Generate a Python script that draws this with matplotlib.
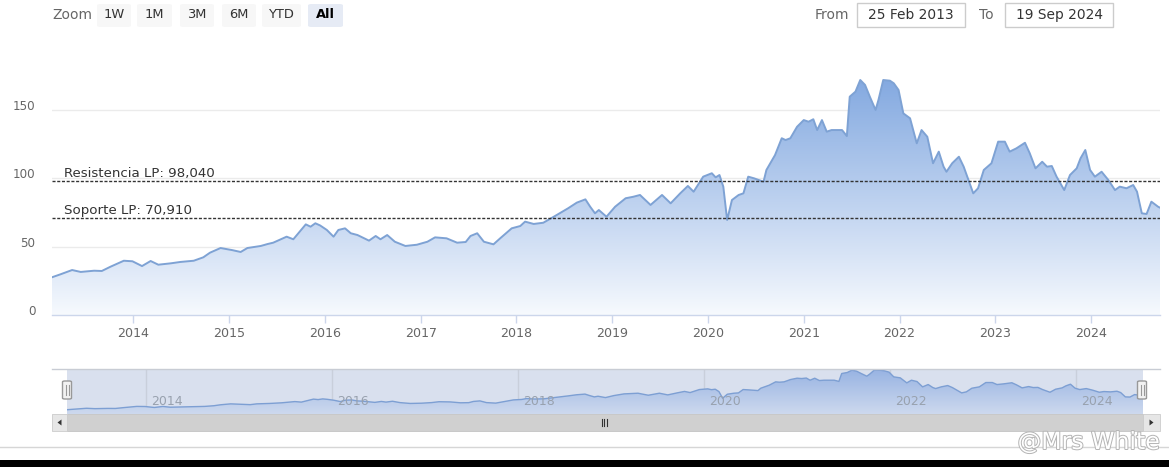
import numpy as np
import matplotlib
matplotlib.use("Agg")
import matplotlib.pyplot as plt
from matplotlib.patches import Polygon, Rectangle, FancyBboxPatch
from matplotlib.transforms import ScaledTranslation
import matplotlib.patheffects as pe

# ---------------- data (decimal year, price) ----------------
years = [2013.15, 2013.24, 2013.36, 2013.45, 2013.59, 2013.67, 2013.76, 2013.90, 2013.99,
         2014.09, 2014.18, 2014.26, 2014.39, 2014.49, 2014.63, 2014.73, 2014.80, 2014.91,
         2015.03, 2015.12, 2015.19, 2015.33, 2015.40, 2015.46, 2015.60, 2015.67, 2015.80,
         2015.85, 2015.90, 2015.95, 2016.02, 2016.09, 2016.14, 2016.21, 2016.27, 2016.34,
         2016.46, 2016.53, 2016.58, 2016.65, 2016.73, 2016.84, 2016.96, 2017.07, 2017.15,
         2017.27, 2017.38, 2017.47, 2017.52, 2017.59, 2017.66, 2017.76, 2017.83, 2017.95,
         2018.04, 2018.09, 2018.18, 2018.28, 2018.39, 2018.46, 2018.54, 2018.63, 2018.72,
         2018.77, 2018.82, 2018.86, 2018.94, 2019.03, 2019.14, 2019.22, 2019.29, 2019.40,
         2019.52, 2019.61, 2019.71, 2019.79, 2019.85, 2019.95, 2020.04, 2020.08, 2020.12,
         2020.16, 2020.20, 2020.25, 2020.32, 2020.37, 2020.42, 2020.48, 2020.58, 2020.61,
         2020.70, 2020.77, 2020.81, 2020.86, 2020.93, 2021.00, 2021.05, 2021.10, 2021.14,
         2021.19, 2021.24, 2021.29, 2021.35, 2021.40, 2021.45, 2021.48, 2021.54, 2021.59,
         2021.64, 2021.69, 2021.75, 2021.78, 2021.83, 2021.90, 2021.94, 2021.99, 2022.04,
         2022.11, 2022.18, 2022.23, 2022.29, 2022.35, 2022.41, 2022.46, 2022.49, 2022.55,
         2022.62, 2022.67, 2022.72, 2022.77, 2022.82, 2022.88, 2022.96, 2023.03, 2023.10,
         2023.15, 2023.22, 2023.31, 2023.36, 2023.42, 2023.49, 2023.54, 2023.59, 2023.64,
         2023.72, 2023.78, 2023.85, 2023.89, 2023.94, 2023.99, 2024.04, 2024.11, 2024.18,
         2024.25, 2024.30, 2024.37, 2024.44, 2024.48, 2024.53, 2024.58, 2024.63, 2024.70,
         2024.72]
prices = [27.6, 29.8, 32.9, 31.5, 32.4, 32.2, 35.3, 39.7, 39.3,
          35.8, 39.5, 36.8, 37.8, 38.8, 39.7, 42.2, 45.6, 49.0,
          47.5, 46.1, 49.0, 50.5, 51.9, 52.9, 57.3, 55.4, 66.3,
          64.6, 67.1, 65.5, 62.2, 57.3, 62.2, 63.4, 59.8, 58.5,
          54.4, 57.8, 55.4, 58.5, 53.6, 50.5, 51.4, 53.6, 56.8,
          56.1, 52.9, 53.4, 57.8, 59.8, 53.6, 51.7, 56.1, 63.4,
          65.1, 68.3, 66.6, 67.5, 71.9, 74.8, 78.1, 82.2, 84.6,
          79.2, 74.4, 76.8, 71.9, 79.2, 85.4, 86.5, 87.8, 80.5,
          87.8, 81.7, 89.0, 94.4, 90.2, 101.2, 103.7, 100.7, 102.4,
          93.9, 69.5, 84.1, 87.8, 89.0, 101.2, 100.0, 97.5, 106.1,
          117.0, 129.3, 128.0, 129.3, 137.7, 142.6, 141.4, 143.2, 135.3,
          142.6, 134.1, 135.3, 135.3, 135.3, 130.9, 159.7, 163.4, 171.9,
          168.3, 159.7, 150.0, 157.3, 171.9, 171.4, 169.5, 164.6, 147.5,
          143.9, 125.6, 135.3, 130.4, 111.0, 119.5, 108.5, 104.8, 111.0,
          115.8, 108.5, 98.8, 89.0, 92.7, 106.1, 111.0, 126.8, 126.8,
          119.5, 121.9, 126.0, 118.3, 107.3, 112.1, 108.5, 109.0, 101.2,
          91.4, 102.4, 107.3, 114.6, 120.7, 106.1, 101.2, 104.8, 98.8,
          91.4, 93.9, 92.7, 95.1, 90.2, 74.4, 73.9, 82.9, 79.2,
          78.5]

resistance_value = 98.04
support_value = 70.91
resistance_label = "Resistencia LP: 98,040"
support_label = "Soporte LP: 70,910"
main_years = list(range(2014, 2025))
nav_years = list(range(2014, 2025, 2))
y_ticks = [0, 50, 100, 150]
zoom_buttons = ["1W", "1M", "3M", "6M", "YTD", "All"]
from_date = "25 Feb 2013"
to_date = "19 Sep 2024"

# ---------------- figure ----------------
W, H = 1169, 467
fig = plt.figure(figsize=(W / 100, H / 100), dpi=100)
fig.patch.set_facecolor("white")
plt.rcParams["font.family"] = ["DejaVu Sans"]


def fx(px):
    return px / W


def fy(py):
    return 1 - py / H


TXT = "#666666"
x0, x1 = years[0], years[-1]

# ---------------- main axes ----------------
left_px, right_px = 52, 1160
bot_px, top_px = 315, 41.6
ax = fig.add_axes([fx(left_px), fy(bot_px), (right_px - left_px) / W, (bot_px - top_px) / H])
ax.set_facecolor("white")
x = np.array(years)
y = np.array(prices)

# gradient area
verts = np.vstack([np.column_stack([x, y]), [[x1, 0], [x0, 0]]])
poly = Polygon(verts, closed=True, facecolor="none", edgecolor="none")
ax.add_patch(poly)
ntop = 175.0
grad = np.linspace(0, 1, 256).reshape(-1, 1)
c_top = np.array([130, 168, 224]) / 255
c_bot = np.array([247, 250, 254]) / 255
rgb = c_bot + (c_top - c_bot) * grad[..., None] ** 0.95
rgb = rgb.reshape(256, 1, 3)
img = ax.imshow(rgb, extent=[x0, x1, 0, ntop], origin="lower", aspect="auto",
                interpolation="bilinear", zorder=1)
img.set_clip_path(poly)
ax.plot(x, y, color="#7ea2d4", lw=1.4, zorder=3, solid_joinstyle="round")

ax.set_xlim(x0, x1)
ax.set_ylim(0, 200)

# grid
for v in y_ticks[1:]:
    ax.axhline(v, color="#ebebeb", lw=1, zorder=0.5)

# support / resistance
for val, lab in [(resistance_value, resistance_label), (support_value, support_label)]:
    ax.axhline(val, color="#333333", lw=1.0, ls=(0, (2.2, 1.2)), zorder=4)
    ax.annotate(lab, xy=(0, val), xycoords=ax.get_yaxis_transform(),
                xytext=(12 * 0.72, 1.0 * 0.72), textcoords="offset points",
                ha="left", va="bottom", fontsize=9.6, color="#333333", zorder=5)

for s in ["top", "right", "left"]:
    ax.spines[s].set_visible(False)
ax.spines["bottom"].set_color("#ccd6eb")
ax.spines["bottom"].set_linewidth(1)

ax.set_xticks(main_years)
ax.set_xticklabels([str(v) for v in main_years], fontsize=9.1, color=TXT)
ax.tick_params(axis="x", length=6, width=1, color="#ccd6eb", pad=2.5)
ax.set_yticks(y_ticks)
ax.set_yticklabels([str(v) for v in y_ticks], fontsize=8.6, color=TXT)
ax.tick_params(axis="y", length=0, pad=12)
for lbl in ax.get_yticklabels():
    lbl.set_transform(lbl.get_transform() + ScaledTranslation(0, 5 / 100, fig.dpi_scale_trans))

# ---------------- top controls ----------------
fig.text(fx(52), fy(15), "Zoom", fontsize=10, color=TXT, ha="left", va="center")
btn_x = [(97, 131), (137, 172), (180, 214), (222, 256), (262, 301), (308, 343)]
for (a, b), lab in zip(btn_x, zoom_buttons):
    sel = lab == "All"
    fig.patches.append(FancyBboxPatch((fx(a), fy(27)), fx(b - a), (27 - 4) / H,
                                      boxstyle="round,pad=0,rounding_size=0.003",
                                      transform=fig.transFigure,
                                      facecolor="#e6ebf5" if sel else "#f7f7f7",
                                      edgecolor="none"))
    fig.text(fx((a + b) / 2), fy(15), lab, fontsize=9.4, color="#000000" if sel else "#333333",
             fontweight="bold" if sel else "normal", ha="center", va="center")

fig.text(fx(815), fy(15), "From", fontsize=10, color=TXT, ha="left", va="center")
fig.text(fx(979), fy(15), "To", fontsize=10, color=TXT, ha="left", va="center")
for (a, b), lab in [((857, 965), from_date), ((1005, 1113), to_date)]:
    fig.patches.append(Rectangle((fx(a), fy(27)), fx(b - a), (27 - 3) / H,
                                 transform=fig.transFigure, facecolor="white",
                                 edgecolor="#cccccc", lw=1))
    fig.text(fx((a + b) / 2), fy(15), lab, fontsize=9.9, color="#333333", ha="center", va="center")

# ---------------- navigator ----------------
nl, nr, nt, nb = 67, 1143, 368.5, 414
nav = fig.add_axes([fx(nl), fy(nb), (nr - nl) / W, (nb - nt) / H])
nav.set_facecolor("#d9e0ee")
nav.set_xlim(x0, x1)
nav.set_ylim(12, 178)
for yy in nav_years:
    nav.axvline(yy, color="#c9cfdb", lw=1, zorder=0.5)
    nav.annotate(str(yy), xy=(yy, 0), xycoords=nav.get_xaxis_transform(),
                 xytext=(4, 4), textcoords="offset points", fontsize=9,
                 color="#98a1ae", ha="left", va="bottom", zorder=5)
nverts = np.vstack([np.column_stack([x, y]), [[x1, 0], [x0, 0]]])
npoly = Polygon(nverts, closed=True, facecolor="none", edgecolor="none")
nav.add_patch(npoly)
nrgb = np.array([205, 217, 238]) / 255 + (np.array([150, 178, 226]) / 255 - np.array([205, 217, 238]) / 255) * grad[..., None]
nimg = nav.imshow(nrgb.reshape(256, 1, 3), extent=[x0, x1, 12, 178], origin="lower",
                  aspect="auto", zorder=1)
nimg.set_clip_path(npoly)
nav.plot(x, y, color="#7d9fd3", lw=1, zorder=3)
nav.set_xticks([])
nav.set_yticks([])
for s in nav.spines.values():
    s.set_visible(False)

# navigator outline (top)
fig.lines.append(plt.Line2D([fx(52), fx(1160)], [fy(368.5), fy(368.5)], transform=fig.transFigure,
                            color="#c8ccd4", lw=1))

# handles
for hx in (67, 1142):
    fig.patches.append(FancyBboxPatch((fx(hx - 4.5), fy(399)), fx(9), 18 / H,
                                      boxstyle="round,pad=0,rounding_size=0.002",
                                      transform=fig.transFigure, facecolor="#f2f2f2",
                                      edgecolor="#999999", lw=1, zorder=10))
    for dx in (-1.5, 1.5):
        fig.lines.append(plt.Line2D([fx(hx + dx), fx(hx + dx)], [fy(385), fy(395)],
                                    transform=fig.transFigure, color="#999999", lw=0.8, zorder=11))

# scrollbar
sb_t, sb_b = 414, 431
fig.patches.append(Rectangle((fx(52), fy(sb_b)), fx(1160 - 52), (sb_b - sb_t) / H,
                             transform=fig.transFigure, facecolor="#f2f2f2", edgecolor="none"))
fig.patches.append(Rectangle((fx(67), fy(sb_b)), fx(1143 - 67), (sb_b - sb_t) / H,
                             transform=fig.transFigure, facecolor="#d0d0d0", edgecolor="#c4c4c4", lw=0.6))
for a, b, d in [(52, 67, -1), (1143, 1160, 1)]:
    fig.patches.append(Rectangle((fx(a), fy(sb_b)), fx(b - a), (sb_b - sb_t) / H,
                                 transform=fig.transFigure, facecolor="#e6e6e6",
                                 edgecolor="#cccccc", lw=0.6))
    cx, cy = (a + b) / 2, (sb_t + sb_b) / 2
    tri = [(fx(cx + 2 * d), fy(cy)), (fx(cx - 2 * d), fy(cy - 3)), (fx(cx - 2 * d), fy(cy + 3))]
    fig.patches.append(Polygon(tri, closed=True, transform=fig.transFigure,
                               facecolor="#333333", edgecolor="none"))
for dx in (-2.5, 0, 2.5):
    fig.lines.append(plt.Line2D([fx(604 + dx), fx(604 + dx)], [fy(419), fy(426)],
                                transform=fig.transFigure, color="#333333", lw=0.8))

# bottom separator and band
fig.lines.append(plt.Line2D([0, 1], [fy(447), fy(447)], transform=fig.transFigure,
                            color="#d6d6d6", lw=1))
fig.patches.append(Rectangle((0, 0), 1, 7 / H, transform=fig.transFigure,
                             facecolor="black", edgecolor="none"))

# watermark
fig.text(fx(1160), fy(442), "@Mrs White", fontsize=17, color="white", ha="right", va="center",
         path_effects=[pe.withStroke(linewidth=1.4, foreground="#b4b4b4")], zorder=20)

fig.savefig("out.png", dpi=100, facecolor="white")
